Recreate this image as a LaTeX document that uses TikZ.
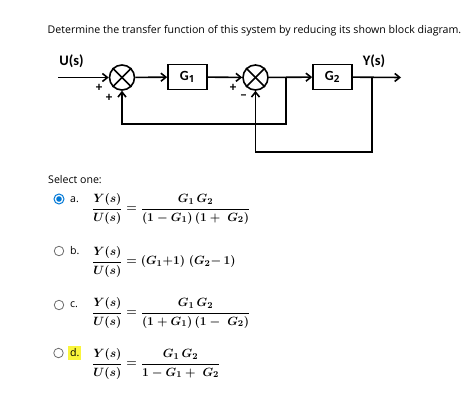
\documentclass[tikz,border=0pt]{standalone}
\usepackage{fontspec}
\setmainfont{Open Sans}
\newfontfamily\diagfont{Carlito}
\usepackage{amsmath}
\usetikzlibrary{arrows.meta}
\definecolor{radioblue}{RGB}{0,120,215}
\definecolor{radiogray}{RGB}{110,110,110}
\definecolor{hl}{RGB}{250,245,60}
\tikzset{
  wire/.style={line width=1.6pt},
  arr/.style={wire,-{Straight Barb[length=5pt,width=8pt,line width=1.6pt]}},
  sumnode/.style={circle,draw,line width=1.6pt,minimum size=25pt,inner sep=0pt},
  blk/.style={draw,line width=1.6pt,minimum width=39pt,minimum height=25pt,inner sep=0pt,font=\diagfont\bfseries\fontsize{14}{16}\selectfont},
  lbl/.style={font=\diagfont\bfseries\fontsize{14.5}{16}\selectfont,inner sep=0pt},
  sgn/.style={font=\diagfont\bfseries\fontsize{13}{14}\selectfont,inner sep=0pt},
  txt/.style={font=\fontsize{10.6}{12}\selectfont,inner sep=0pt},
  opt/.style={font=\fontsize{13}{15}\selectfont\boldmath,inner sep=0pt,anchor=west},
  radiooff/.style={circle,draw=radiogray,line width=0.8pt,minimum size=9.5pt,inner sep=0pt,fill=white},
}
\newcommand{\sumcross}[1]{%
  \draw[wire] (#1.45) -- (#1.225);
  \draw[wire] (#1.135) -- (#1.315);
}
\begin{document}
\begin{tikzpicture}[x=1pt,y=-1pt]
\useasboundingbox[fill=white] (0,0) rectangle (474,401);
% title
\node[txt,anchor=west] (title) at (47.5,31) {Determine the transfer function of this system by reducing its shown block diagram.};
% diagram
\node[sumnode] (s1) at (122,77.5) {};
\sumcross{s1}
\node[blk] (g1) at (187.5,77) {G$_{\mathbf 1}$};
\node[sumnode] (s2) at (255.5,77.5) {};
\sumcross{s2}
\node[blk] (g2) at (332.5,77) {G$_{\mathbf 2}$};
\coordinate (in) at (58,77.5);
\coordinate (out) at (401,77.5);
\coordinate (t1) at (286,77.5);
\coordinate (t2) at (372,77.5);
\node[lbl] (u) at (71.5,61) {U(s)};
\node[lbl] (y) at (374,61) {Y(s)};
\draw[arr] (in) -- (s1);
\draw[arr] (s1) -- (g1);
\draw[arr] (g1) -- (s2);
\draw[arr] (s2) -- (g2);
\draw[arr] (g2) -- (out);
\draw[arr] (t1) -- ++(0,46.5) -| (s1.south);
\draw[arr] (t2) -- ++(0,74.5) -| (s2.south);
\node[sgn] (p1) at (99,87.5) {+};
\node[sgn] (p2) at (109,98) {+};
\node[sgn] (p3) at (233,88) {+};
\node[sgn] (m1) at (243.5,97) {\textminus};
% options
\node[txt,anchor=west] (sel) at (48,179.5) {Select one:};
\node[circle,draw=radioblue,line width=1pt,minimum size=10pt,inner sep=0pt] (ra) at (59,199) {};
\fill[radioblue] (ra) circle (2.8pt);
\node[txt,anchor=west] (la) at (70,199.5) {a.};
\node[opt] (ea) at (92,209) {$\displaystyle\frac{Y(s)}{U(s)}=\frac{G_1\,G_2}{(1-G_1)\,(1+\;G_2)}$};
\node[radiooff] (rb) at (59,251) {};
\node[txt,anchor=west] (lb) at (70,251) {b.};
\node[opt] (eb) at (92,262) {$\displaystyle\frac{Y(s)}{U(s)}=(G_1{+}1)\;(G_2{-}\,1)$};
\node[radiooff] (rc) at (59,305) {};
\node[txt,anchor=west] (lc) at (70,305) {c.};
\node[opt] (ec) at (92,313) {$\displaystyle\frac{Y(s)}{U(s)}=\frac{G_1\,G_2}{(1+G_1)\,(1-\;G_2)}$};
\node[radiooff] (rd) at (58.5,353) {};
\fill[hl] (67.5,346) rectangle (80.5,360);
\node[txt,anchor=west] (ld) at (70,353) {d.};
\node[opt] (ed) at (92,364) {$\displaystyle\frac{Y(s)}{U(s)}=\frac{G_1\,G_2}{1-G_1+\;G_2}$};
\end{tikzpicture}
\end{document}
